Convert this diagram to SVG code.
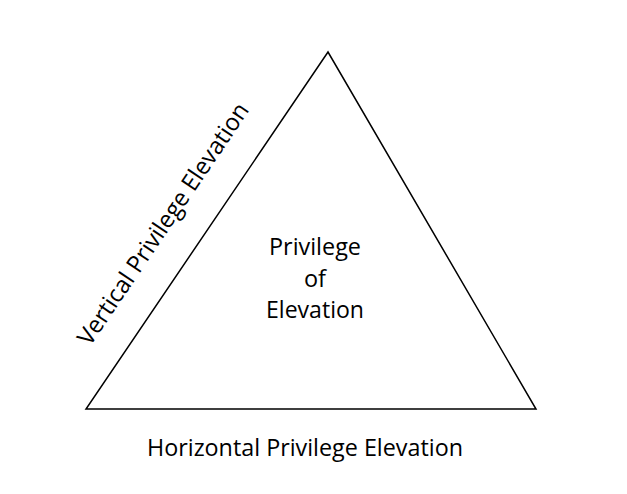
<svg xmlns="http://www.w3.org/2000/svg" width="627" height="494" viewBox="0 0 627 494">
<style>
.t{font-family:"Open Sans","Liberation Sans",sans-serif;font-size:24px;fill:#000}
.tri{fill:#fff;stroke:#000;stroke-width:1.5}
</style>
<rect width="627" height="494" fill="#fff"/>
<g id="triangle">
<polygon class="tri" points="328,52 86,409 536,409"/>
<text class="t" x="269" y="255" textLength="92" lengthAdjust="spacingAndGlyphs">Privilege</text>
<text class="t" x="304" y="287" textLength="22" lengthAdjust="spacingAndGlyphs">of</text>
<text class="t" x="266" y="318" textLength="98" lengthAdjust="spacingAndGlyphs">Elevation</text>
</g>
<g id="vertical-label">
<text class="t" transform="translate(90,347) rotate(-56)" x="0" y="0" textLength="286" lengthAdjust="spacingAndGlyphs">Vertical Privilege Elevation</text>
</g>
<g id="horizontal-label">
<text class="t" x="147" y="456" textLength="316" lengthAdjust="spacingAndGlyphs">Horizontal Privilege Elevation</text>
</g>
</svg>
